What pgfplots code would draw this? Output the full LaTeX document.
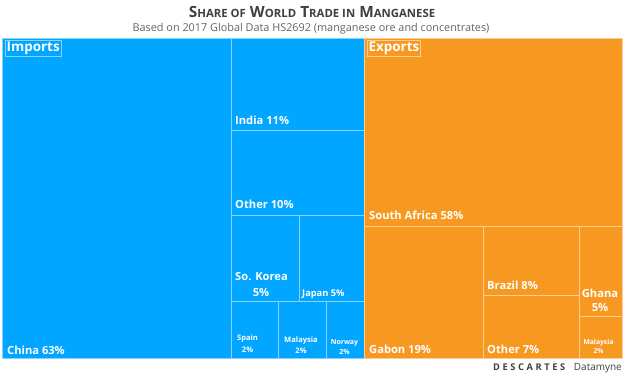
\documentclass[border=0pt]{standalone}
\usepackage{pgfplots}
\pgfplotsset{compat=1.18}
\usepackage{fontspec}
\setmainfont{Open Sans}
\definecolor{impblue}{RGB}{0,166,255}
\definecolor{implin}{RGB}{140,210,245}
\definecolor{exporg}{RGB}{247,152,32}
\definecolor{explin}{RGB}{250,205,150}
\definecolor{titlegray}{RGB}{64,64,64}
\definecolor{subgray}{RGB}{100,100,100}
\newcommand{\fsc}[1]{{\fontsize{11.4}{13}\selectfont #1}}
\tikzset{
  lbl/.style={font=\bfseries\fontsize{11.2}{12}\selectfont, text=white, inner sep=0pt},
  sml/.style={font=\bfseries\fontsize{9.3}{10}\selectfont, text=white, inner sep=0pt, align=center},
  tiny/.style={font=\bfseries\fontsize{7.6}{8.5}\selectfont, text=white, inner sep=0pt, align=center},
}
\begin{document}
\begin{tikzpicture}
\begin{axis}[
  scale only axis, width=624bp, height=378bp,
  xmin=0, xmax=624, ymin=0, ymax=378, y dir=reverse,
  hide axis, clip=false,
  ]
\path (axis cs:0,0) rectangle (axis cs:624,378);
% Imports cells
\addplot[fill=impblue, draw=implin, line width=0.8pt] coordinates {(2,38) (231,38) (231,358) (2,358)} -- cycle;   % China 63
\addplot[fill=impblue, draw=implin, line width=0.8pt] coordinates {(231,38) (364,38) (364,130) (231,130)} -- cycle; % India 11
\addplot[fill=impblue, draw=implin, line width=0.8pt] coordinates {(231,130) (364,130) (364,215) (231,215)} -- cycle; % Other 10
\addplot[fill=impblue, draw=implin, line width=0.8pt] coordinates {(231,215) (299,215) (299,301) (231,301)} -- cycle; % So. Korea 5
\addplot[fill=impblue, draw=implin, line width=0.8pt] coordinates {(299,215) (364,215) (364,301) (299,301)} -- cycle; % Japan 5
\addplot[fill=impblue, draw=implin, line width=0.8pt] coordinates {(231,301) (278,301) (278,358) (231,358)} -- cycle; % Spain 2
\addplot[fill=impblue, draw=implin, line width=0.8pt] coordinates {(278,301) (326,301) (326,358) (278,358)} -- cycle; % Malaysia 2
\addplot[fill=impblue, draw=implin, line width=0.8pt] coordinates {(326,301) (364,301) (364,358) (326,358)} -- cycle; % Norway 2
% Exports cells
\addplot[fill=exporg, draw=explin, line width=0.8pt] coordinates {(364,38) (622,38) (622,226) (364,226)} -- cycle; % South Africa 58
\addplot[fill=exporg, draw=explin, line width=0.8pt] coordinates {(364,226) (483,226) (483,358) (364,358)} -- cycle; % Gabon 19
\addplot[fill=exporg, draw=explin, line width=0.8pt] coordinates {(483,226) (579,226) (579,295) (483,295)} -- cycle; % Brazil 8
\addplot[fill=exporg, draw=explin, line width=0.8pt] coordinates {(483,295) (579,295) (579,358) (483,358)} -- cycle; % Other 7
\addplot[fill=exporg, draw=explin, line width=0.8pt] coordinates {(579,226) (622,226) (622,316) (579,316)} -- cycle; % Ghana 5
\addplot[fill=exporg, draw=explin, line width=0.8pt] coordinates {(579,316) (622,316) (622,358) (579,358)} -- cycle; % Malaysia 2
% Title
\node[font=\bfseries\fontsize{15.5}{17}\selectfont, text=titlegray, anchor=base] at (axis cs:312,17.5) {S\fsc{HARE OF} W\fsc{ORLD} T\fsc{RADE IN} M\fsc{ANGANESE}};
\node[font=\fontsize{10.9}{12}\selectfont, text=subgray, anchor=base] at (axis cs:311,31.5) {Based on 2017 Global Data HS2692 (manganese ore and concentrates)};
% Group headers
\node[anchor=north west, draw=implin, line width=0.6pt, inner sep=1.3pt, text=white, font=\fontsize{13.5}{15}\selectfont\bfseries] at (axis cs:5,40.5) {Imports};
\node[anchor=north west, draw=explin, line width=0.6pt, inner sep=1.3pt, text=white, font=\fontsize{13.5}{15}\selectfont\bfseries] at (axis cs:367,40.5) {Exports};
% Labels
\node[lbl, anchor=base west] at (axis cs:7,354) {China 63\%};
\node[lbl, anchor=base west] at (axis cs:235,124) {India 11\%};
\node[lbl, anchor=base west] at (axis cs:235,208) {Other 10\%};
\node[lbl, anchor=base west] at (axis cs:235,280) {So. Korea};
\node[lbl, anchor=base] at (axis cs:261,296) {5\%};
\node[sml, anchor=base west] at (axis cs:302,296) {Japan 5\%};
\node[tiny, anchor=base] at (axis cs:247.5,340) {Spain};
\node[tiny, anchor=base] at (axis cs:247.5,352) {2\%};
\node[tiny, anchor=base] at (axis cs:301,342) {Malaysia};
\node[tiny, anchor=base] at (axis cs:301,353.5) {2\%};
\node[tiny, font=\bfseries\fontsize{7}{8}\selectfont, anchor=base] at (axis cs:344.5,344) {Norway};
\node[tiny, font=\bfseries\fontsize{7}{8}\selectfont, anchor=base] at (axis cs:344.5,354.5) {2\%};
\node[lbl, anchor=base west] at (axis cs:369,219) {South Africa 58\%};
\node[lbl, anchor=base west] at (axis cs:369,353) {Gabon 19\%};
\node[lbl, anchor=base west] at (axis cs:487,289) {Brazil 8\%};
\node[lbl, anchor=base west] at (axis cs:487,353) {Other 7\%};
\node[lbl, anchor=base] at (axis cs:600,297) {Ghana};
\node[lbl, anchor=base] at (axis cs:600,311) {5\%};
\node[font=\bfseries\fontsize{6.8}{7.5}\selectfont, text=white, inner sep=0pt, anchor=base] at (axis cs:598.5,344) {Malaysia};
\node[font=\bfseries\fontsize{6.8}{7.5}\selectfont, text=white, inner sep=0pt, anchor=base] at (axis cs:598.5,353) {2\%};
% Logo
\node[anchor=base west, inner sep=0pt, text=titlegray, font=\bfseries\fontsize{9.3}{10}\selectfont] at (axis cs:493,370) {D\hspace{2.6pt}E\hspace{2.6pt}S\hspace{2.6pt}C\hspace{2.6pt}A\hspace{2.6pt}R\hspace{2.6pt}T\hspace{2.6pt}E\hspace{2.6pt}S};
\node[anchor=base east, inner sep=0pt, text=titlegray, font=\fontsize{10}{11}\selectfont] at (axis cs:622,370) {Datamyne};
\end{axis}
\end{tikzpicture}
\end{document}
